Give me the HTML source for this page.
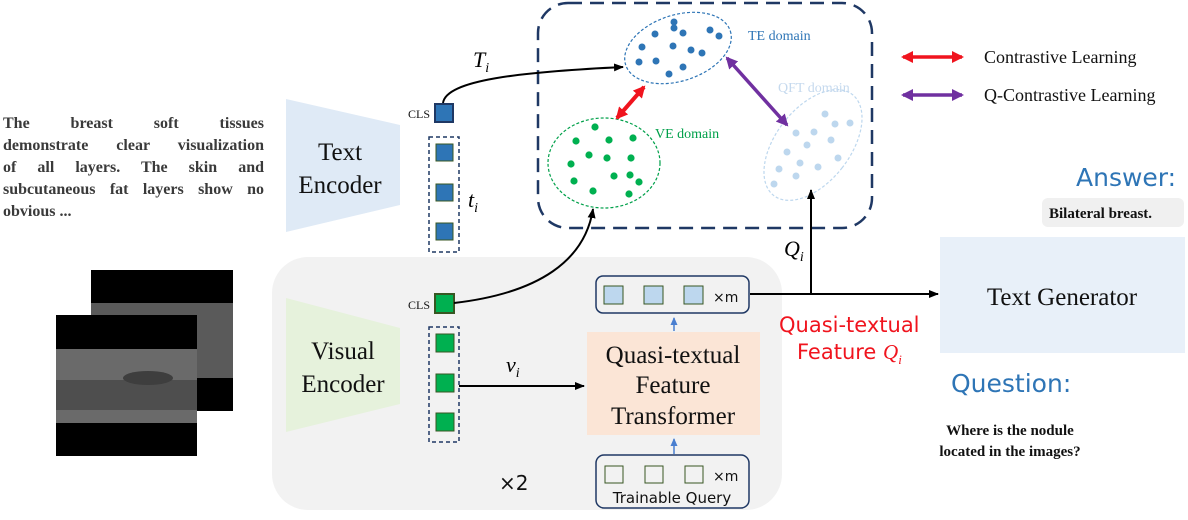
<!DOCTYPE html>
<html><head><meta charset="utf-8"><style>
html,body{margin:0;padding:0;background:#fff;}
svg{display:block}
.ser{font-family:"Liberation Serif",serif}
.cm{font-family:"Comic Sans MS","DejaVu Sans",sans-serif}
#lt{position:absolute;left:3px;top:113px;width:261px;font-family:"Liberation Serif",serif;font-weight:bold;font-size:16px;line-height:22px;color:#3a3a3a}
#lt div{text-align:justify;text-align-last:justify;white-space:nowrap;overflow:visible}
</style></head><body>
<div id="lt">
<div style="white-space:normal">The breast soft tissues</div>
<div style="white-space:normal">demonstrate clear visualization</div>
<div style="white-space:normal">of all layers. The skin and</div>
<div style="white-space:normal">subcutaneous fat layers show no</div>
<div style="text-align-last:left">obvious ...</div>
</div>
<svg width="1188" height="520" viewBox="0 0 1188 520" xmlns="http://www.w3.org/2000/svg">
<defs>
<marker id="ak" markerWidth="10" markerHeight="8" refX="9" refY="4" orient="auto" markerUnits="userSpaceOnUse"><path d="M0,0 L10,4 L0,8 z" fill="#000"/></marker>
<marker id="ab" markerWidth="8" markerHeight="7" refX="7" refY="3.5" orient="auto" markerUnits="userSpaceOnUse"><path d="M0,0 L8,3.5 L0,7 z" fill="#4a7fd0"/></marker>
<marker id="ar" markerWidth="12" markerHeight="12" refX="10" refY="6" orient="auto-start-reverse" markerUnits="userSpaceOnUse"><path d="M0,0 L12,6 L0,12 z" fill="#f0141e"/></marker>
<marker id="ap" markerWidth="12" markerHeight="12" refX="10" refY="6" orient="auto-start-reverse" markerUnits="userSpaceOnUse"><path d="M0,0 L12,6 L0,12 z" fill="#7030a0"/></marker>
</defs>

<!-- images -->
<rect x="91" y="270" width="142" height="141" fill="#000"/>
<rect x="91" y="303" width="142" height="75" fill="#5a5a5a"/>
<rect x="56" y="315" width="141" height="141" fill="#000"/>
<rect x="56" y="349" width="141" height="74" fill="#6a6a6a"/>
<rect x="56" y="380" width="141" height="30" fill="#4e4e4e"/>
<ellipse cx="148" cy="378" rx="25" ry="7" fill="#3e3e3e"/>

<!-- gray panel -->
<rect x="272" y="257" width="510" height="253" rx="36" fill="#f2f2f2"/>

<!-- encoders -->
<polygon points="286,99 400,125 400,205 286,232" fill="#dfeaf6"/>
<text class="ser" x="340" y="160" font-size="25" text-anchor="middle" fill="#111">Text</text>
<text class="ser" x="340" y="193" font-size="25" text-anchor="middle" fill="#111">Encoder</text>
<polygon points="286,298 400,328 400,404 286,432" fill="#e6f2dc"/>
<text class="ser" x="343" y="359" font-size="25" text-anchor="middle" fill="#111">Visual</text>
<text class="ser" x="343" y="392" font-size="25" text-anchor="middle" fill="#111">Encoder</text>

<!-- text tokens -->
<text class="ser" x="430" y="118" font-size="12" text-anchor="end" fill="#111">CLS</text>
<rect x="435" y="104" width="18" height="18" fill="#2e75b6" stroke="#1f3864" stroke-width="2"/>
<rect x="429" y="137" width="30" height="115" fill="none" stroke="#1f3864" stroke-width="1.5" stroke-dasharray="4,3"/>
<rect x="436" y="144" width="17" height="17" fill="#2e75b6" stroke="#385723" stroke-width="1"/>
<rect x="436" y="184" width="17" height="17" fill="#2e75b6" stroke="#385723" stroke-width="1"/>
<rect x="436" y="223" width="17" height="17" fill="#2e75b6" stroke="#385723" stroke-width="1"/>
<text class="ser" x="468" y="207" font-size="22" font-style="italic">t<tspan font-size="14" dy="5">i</tspan></text>

<!-- visual tokens -->
<text class="ser" x="430" y="309" font-size="12" text-anchor="end" fill="#111">CLS</text>
<rect x="435" y="294" width="19" height="19" fill="#00b050" stroke="#385723" stroke-width="2"/>
<rect x="429" y="327" width="30" height="115" fill="none" stroke="#1f3864" stroke-width="1.5" stroke-dasharray="4,3"/>
<rect x="436" y="334" width="18" height="18" fill="#00b050" stroke="#385723" stroke-width="1"/>
<rect x="436" y="374" width="18" height="18" fill="#00b050" stroke="#385723" stroke-width="1"/>
<rect x="436" y="413" width="18" height="18" fill="#00b050" stroke="#385723" stroke-width="1"/>

<text class="ser" x="506" y="372" font-size="22" font-style="italic">v<tspan font-size="14" dy="5">i</tspan></text>
<line x1="459" y1="386" x2="584" y2="386" stroke="#000" stroke-width="2" marker-end="url(#ak)"/>
<text class="cm" x="499" y="490" font-size="20" fill="#111">×2</text>

<!-- QFT -->
<rect x="587" y="332" width="173" height="103" fill="#fbe5d6"/>
<text class="ser" x="673" y="363" font-size="25" text-anchor="middle" fill="#111">Quasi-textual</text>
<text class="ser" x="673" y="393" font-size="25" text-anchor="middle" fill="#111">Feature</text>
<text class="ser" x="673" y="424" font-size="25" text-anchor="middle" fill="#111">Transformer</text>
<rect x="596" y="276" width="153" height="37" rx="7" fill="#f2f2f2" stroke="#1f3864" stroke-width="1.5"/>
<rect x="604" y="286" width="19" height="18" fill="#bdd7ee" stroke="#385723" stroke-width="1"/>
<rect x="644" y="286" width="19" height="18" fill="#bdd7ee" stroke="#385723" stroke-width="1"/>
<rect x="684" y="286" width="19" height="18" fill="#bdd7ee" stroke="#385723" stroke-width="1"/>
<text class="cm" x="713" y="302" font-size="14" fill="#111">×m</text>
<line x1="674" y1="331" x2="674" y2="318" stroke="#4a7fd0" stroke-width="1.5" marker-end="url(#ab)"/>
<line x1="674" y1="454" x2="674" y2="439" stroke="#4a7fd0" stroke-width="1.5" marker-end="url(#ab)"/>
<rect x="596" y="455" width="153" height="53" rx="8" fill="#f2f2f2" stroke="#1f3864" stroke-width="1.5"/>
<rect x="605" y="466" width="18" height="17" fill="none" stroke="#385723" stroke-width="1"/>
<rect x="645" y="466" width="18" height="17" fill="none" stroke="#385723" stroke-width="1"/>
<rect x="685" y="466" width="18" height="17" fill="none" stroke="#385723" stroke-width="1"/>
<text class="cm" x="713" y="481" font-size="14" fill="#111">×m</text>
<text class="cm" x="672" y="503" font-size="15" text-anchor="middle" fill="#111">Trainable Query</text>

<!-- dashed domain box -->
<rect x="538" y="3" width="334" height="225" rx="30" fill="none" stroke="#1f3864" stroke-width="2.5" stroke-dasharray="14,8"/>

<!-- TE ellipse -->
<ellipse cx="678" cy="48" rx="55" ry="33" transform="rotate(-18 678 48)" fill="none" stroke="#2e75b6" stroke-width="1.2" stroke-dasharray="3,2"/>
<g fill="#2e75b6">
<circle cx="674" cy="22" r="3.5"/><circle cx="655" cy="34" r="3.5"/><circle cx="674" cy="28" r="3.5"/><circle cx="683" cy="33" r="3.5"/>
<circle cx="719" cy="36" r="3.5"/><circle cx="710" cy="30" r="3.5"/><circle cx="642" cy="47" r="3.5"/><circle cx="673" cy="46" r="3.5"/>
<circle cx="691" cy="50" r="3.5"/><circle cx="702" cy="53" r="3.5"/><circle cx="639" cy="62" r="3.5"/><circle cx="656" cy="61" r="3.5"/>
<circle cx="683" cy="67" r="3.5"/><circle cx="669" cy="74" r="3.5"/>
</g>
<text class="ser" x="748" y="40" font-size="14" fill="#2e75b6">TE domain</text>

<!-- VE ellipse -->
<ellipse cx="604" cy="163" rx="56" ry="45" fill="none" stroke="#00a04a" stroke-width="1.2" stroke-dasharray="3,2"/>
<g fill="#00b050">
<circle cx="595" cy="127" r="3.6"/><circle cx="576" cy="141" r="3.6"/><circle cx="609" cy="140" r="3.6"/><circle cx="633" cy="138" r="3.6"/>
<circle cx="589" cy="155" r="3.6"/><circle cx="607" cy="158" r="3.6"/><circle cx="631" cy="158" r="3.6"/><circle cx="571" cy="164" r="3.6"/>
<circle cx="614" cy="176" r="3.6"/><circle cx="630" cy="175" r="3.6"/><circle cx="639" cy="182" r="3.6"/><circle cx="574" cy="181" r="3.6"/>
<circle cx="593" cy="191" r="3.6"/><circle cx="629" cy="194" r="3.6"/>
</g>
<text class="ser" x="655" y="138" font-size="14" fill="#00a04a">VE domain</text>

<!-- QFT ellipse -->
<ellipse cx="813" cy="145" rx="37" ry="64" transform="rotate(38 813 145)" fill="none" stroke="#bdd7ee" stroke-width="1.2" stroke-dasharray="3,2"/>
<g fill="#bdd7ee">
<circle cx="825" cy="114" r="3.5"/><circle cx="835" cy="124" r="3.5"/><circle cx="850" cy="123" r="3.5"/><circle cx="796" cy="133" r="3.5"/>
<circle cx="814" cy="132" r="3.5"/><circle cx="831" cy="140" r="3.5"/><circle cx="807" cy="145" r="3.5"/><circle cx="787" cy="152" r="3.5"/>
<circle cx="838" cy="158" r="3.5"/><circle cx="800" cy="163" r="3.5"/><circle cx="818" cy="167" r="3.5"/><circle cx="779" cy="169" r="3.5"/>
<circle cx="796" cy="176" r="3.5"/><circle cx="774" cy="184" r="3.5"/>
</g>
<text class="ser" x="778" y="92" font-size="14" fill="#c5d9ee">QFT domain</text>

<!-- contrastive arrows -->
<line x1="644" y1="87" x2="617" y2="118" stroke="#f0141e" stroke-width="4" marker-start="url(#ar)" marker-end="url(#ar)"/>
<line x1="727" y1="58" x2="787" y2="125" stroke="#7030a0" stroke-width="3.5" marker-start="url(#ap)" marker-end="url(#ap)"/>

<!-- T_i curve -->
<path d="M443,103 C446,80 520,72 623,67" fill="none" stroke="#000" stroke-width="2" marker-end="url(#ak)"/>
<text class="ser" x="473" y="67" font-size="22" font-style="italic">T<tspan font-size="14" dy="5">i</tspan></text>
<!-- CLS green curve -->
<path d="M454,303 C540,293 585,260 593,209" fill="none" stroke="#000" stroke-width="2" marker-end="url(#ak)"/>

<!-- output line -->
<line x1="750" y1="294" x2="938" y2="294" stroke="#000" stroke-width="2" marker-end="url(#ak)"/>
<line x1="811" y1="294" x2="811" y2="190" stroke="#000" stroke-width="2" marker-end="url(#ak)"/>
<text class="ser" x="784" y="256" font-size="22" font-style="italic">Q<tspan font-size="14" dy="5">i</tspan></text>

<text class="cm" x="779" y="332" font-size="21" fill="#f0141e">Quasi-textual</text>
<text class="cm" x="797" y="359" font-size="21" fill="#f0141e">Feature <tspan class="ser" font-style="italic">Q</tspan><tspan class="ser" font-style="italic" font-size="13" dy="5">i</tspan></text>

<!-- text generator -->
<rect x="940" y="237" width="245" height="116" fill="#e8f0f9"/>
<text class="ser" x="1062" y="305" font-size="25" text-anchor="middle" fill="#111">Text Generator</text>

<text class="cm" x="1076" y="186" font-size="25" fill="#2e75b6">Answer:</text>
<rect x="1042" y="198" width="142" height="29" rx="6" fill="#f0f0f0"/>
<text class="ser" x="1049" y="218" font-size="15" font-weight="bold" fill="#111">Bilateral breast.</text>

<text class="cm" x="951" y="392" font-size="25" fill="#2e75b6">Question:</text>
<text class="ser" x="1010" y="435" font-size="15" font-weight="bold" text-anchor="middle" fill="#111">Where is the nodule</text>
<text class="ser" x="1010" y="456" font-size="15" font-weight="bold" text-anchor="middle" fill="#111">located in the images?</text>

<!-- legend -->
<line x1="903" y1="57" x2="962" y2="57" stroke="#f0141e" stroke-width="3.5" marker-start="url(#ar)" marker-end="url(#ar)"/>
<text class="ser" x="984" y="63" font-size="18" fill="#111">Contrastive Learning</text>
<line x1="903" y1="95" x2="962" y2="95" stroke="#7030a0" stroke-width="3.5" marker-start="url(#ap)" marker-end="url(#ap)"/>
<text class="ser" x="984" y="101" font-size="18" fill="#111">Q-Contrastive Learning</text>
</svg>
</body></html>
